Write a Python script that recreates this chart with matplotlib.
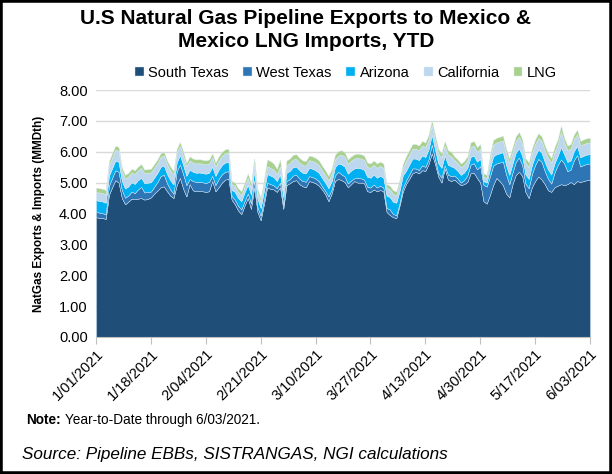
import matplotlib
matplotlib.use("Agg")
import matplotlib.pyplot as plt
import numpy as np
import pandas as pd
from matplotlib.patches import Rectangle

plt.rcParams['font.family'] = ['Liberation Sans', 'DejaVu Sans']

dates = pd.date_range('2021-01-01', '2021-06-03', freq='D')
tick_labels = ['1/01/2021', '1/18/2021', '2/04/2021', '2/21/2021', '3/10/2021',
               '3/27/2021', '4/13/2021', '4/30/2021', '5/17/2021', '6/03/2021']
series_names = ['South Texas', 'West Texas', 'Arizona', 'California', 'LNG']

south_texas = [
    3.88, 3.86, 3.86, 3.82, 4.60, 4.85, 5.08, 5.00, 4.50, 4.30,
    4.38, 4.48, 4.46, 4.48, 4.50, 4.45, 4.47, 4.52, 4.64, 4.74,
    4.85, 4.88, 4.72, 4.58, 4.50, 4.92, 5.15, 4.80, 4.55, 4.95,
    4.75, 4.72, 4.73, 4.72, 4.70, 4.72, 5.05, 4.72, 4.85, 5.00,
    5.10, 5.12, 4.45, 4.30, 4.10, 3.98, 4.25, 4.50, 4.15, 4.85,
    4.05, 3.78, 4.30, 4.85, 4.80, 4.78, 4.70, 4.85, 4.15, 4.92,
    4.98, 5.05, 5.08, 4.95, 4.88, 4.85, 5.05, 5.02, 4.98, 4.90,
    4.78, 4.62, 4.40, 4.65, 5.05, 5.12, 5.08, 5.02, 4.85, 4.95,
    5.05, 5.00, 5.00, 4.98, 4.72, 4.70, 4.78, 4.72, 4.76, 4.72,
    4.05, 3.95, 3.88, 3.85, 4.25, 4.70, 4.95, 5.12, 5.30, 5.35,
    5.30, 5.40, 5.38, 5.60, 5.95, 5.60, 5.20, 5.00, 5.45, 5.10,
    5.05, 5.10, 5.00, 4.92, 4.95, 5.02, 5.30, 5.32, 5.15, 5.00,
    4.40, 4.32, 4.60, 4.92, 5.15, 5.05, 4.92, 4.65, 4.52, 4.95,
    5.25, 5.35, 5.22, 4.70, 4.50, 4.85, 5.05, 5.20, 5.10, 4.95,
    4.75, 4.70, 4.85, 4.90, 4.95, 4.92, 4.95, 5.02, 4.95, 5.05,
    5.02, 5.05, 5.08, 5.08]

west_texas = [
    0.17, 0.17, 0.15, 0.15, 0.30, 0.30, 0.32, 0.35, 0.26, 0.21,
    0.20, 0.23, 0.20, 0.30, 0.36, 0.23, 0.23, 0.19, 0.22, 0.27,
    0.36, 0.38, 0.26, 0.20, 0.14, 0.44, 0.44, 0.47, 0.37, 0.17,
    0.30, 0.30, 0.30, 0.29, 0.29, 0.30, 0.17, 0.20, 0.27, 0.27,
    0.25, 0.25, 0.12, 0.15, 0.15, 0.15, 0.15, 0.15, 0.18, 0.22,
    0.15, 0.15, 0.15, 0.15, 0.15, 0.13, 0.12, 0.15, 0.13, 0.13,
    0.13, 0.18, 0.17, 0.18, 0.17, 0.18, 0.16, 0.16, 0.15, 0.15,
    0.10, 0.11, 0.15, 0.13, 0.18, 0.23, 0.19, 0.18, 0.12, 0.12,
    0.09, 0.16, 0.14, 0.12, 0.15, 0.14, 0.16, 0.12, 0.14, 0.12,
    0.13, 0.18, 0.10, 0.10, 0.08, 0.13, 0.11, 0.14, 0.16, 0.11,
    0.11, 0.16, 0.13, 0.16, 0.28, 0.16, 0.11, 0.16, 0.11, 0.16,
    0.16, 0.13, 0.13, 0.08, 0.13, 0.21, 0.28, 0.31, 0.28, 0.53,
    0.53, 0.55, 0.60, 0.63, 0.47, 0.60, 0.77, 0.62, 0.43, 0.37,
    0.42, 0.46, 0.35, 0.27, 0.32, 0.42, 0.52, 0.57, 0.57, 0.42,
    0.37, 0.27, 0.47, 0.67, 0.80, 0.70, 0.42, 0.40, 0.77, 0.84,
    0.50, 0.52, 0.53, 0.54]

arizona = [
    0.38, 0.38, 0.38, 0.38, 0.32, 0.32, 0.32, 0.32, 0.30, 0.30,
    0.30, 0.30, 0.30, 0.30, 0.30, 0.30, 0.30, 0.30, 0.30, 0.30,
    0.30, 0.30, 0.30, 0.30, 0.30, 0.30, 0.30, 0.30, 0.30, 0.30,
    0.30, 0.30, 0.30, 0.30, 0.30, 0.30, 0.30, 0.30, 0.30, 0.30,
    0.30, 0.30, 0.20, 0.25, 0.25, 0.27, 0.28, 0.28, 0.28, 0.30,
    0.28, 0.25, 0.28, 0.28, 0.28, 0.27, 0.23, 0.28, 0.25, 0.27,
    0.27, 0.27, 0.27, 0.27, 0.27, 0.27, 0.27, 0.27, 0.27, 0.27,
    0.27, 0.27, 0.27, 0.27, 0.27, 0.27, 0.32, 0.32, 0.32, 0.32,
    0.32, 0.32, 0.32, 0.32, 0.32, 0.32, 0.32, 0.32, 0.32, 0.32,
    0.40, 0.40, 0.40, 0.40, 0.40, 0.40, 0.32, 0.32, 0.32, 0.32,
    0.32, 0.32, 0.32, 0.32, 0.32, 0.32, 0.32, 0.32, 0.32, 0.32,
    0.32, 0.25, 0.25, 0.25, 0.25, 0.25, 0.25, 0.25, 0.25, 0.25,
    0.12, 0.13, 0.25, 0.30, 0.30, 0.30, 0.30, 0.30, 0.30, 0.30,
    0.30, 0.30, 0.30, 0.30, 0.30, 0.30, 0.30, 0.30, 0.30, 0.30,
    0.30, 0.30, 0.30, 0.30, 0.40, 0.30, 0.30, 0.30, 0.30, 0.30,
    0.30, 0.30, 0.30, 0.30]

california = [
    0.27, 0.27, 0.27, 0.27, 0.35, 0.35, 0.35, 0.35, 0.32, 0.32,
    0.32, 0.32, 0.32, 0.32, 0.32, 0.32, 0.32, 0.32, 0.32, 0.32,
    0.32, 0.32, 0.32, 0.32, 0.32, 0.32, 0.30, 0.30, 0.30, 0.30,
    0.30, 0.30, 0.30, 0.30, 0.30, 0.30, 0.30, 0.30, 0.30, 0.30,
    0.30, 0.30, 0.18, 0.20, 0.20, 0.20, 0.20, 0.22, 0.22, 0.25,
    0.20, 0.20, 0.22, 0.25, 0.25, 0.24, 0.22, 0.25, 0.22, 0.25,
    0.25, 0.25, 0.25, 0.25, 0.25, 0.25, 0.25, 0.25, 0.25, 0.25,
    0.25, 0.25, 0.25, 0.25, 0.25, 0.25, 0.32, 0.32, 0.32, 0.32,
    0.32, 0.32, 0.32, 0.32, 0.32, 0.32, 0.32, 0.32, 0.32, 0.32,
    0.25, 0.25, 0.25, 0.25, 0.25, 0.25, 0.32, 0.32, 0.32, 0.32,
    0.32, 0.32, 0.32, 0.32, 0.32, 0.32, 0.32, 0.32, 0.32, 0.32,
    0.32, 0.25, 0.25, 0.25, 0.25, 0.25, 0.32, 0.32, 0.32, 0.32,
    0.15, 0.15, 0.30, 0.38, 0.38, 0.38, 0.38, 0.38, 0.38, 0.38,
    0.38, 0.38, 0.38, 0.38, 0.38, 0.38, 0.38, 0.38, 0.38, 0.38,
    0.38, 0.38, 0.38, 0.38, 0.50, 0.38, 0.38, 0.38, 0.38, 0.38,
    0.38, 0.38, 0.38, 0.38]

lng = [
    0.14, 0.14, 0.14, 0.14, 0.13, 0.13, 0.13, 0.13, 0.12, 0.12,
    0.12, 0.12, 0.12, 0.12, 0.12, 0.12, 0.12, 0.12, 0.12, 0.12,
    0.12, 0.12, 0.12, 0.12, 0.12, 0.12, 0.13, 0.13, 0.13, 0.13,
    0.13, 0.13, 0.13, 0.13, 0.13, 0.13, 0.13, 0.13, 0.13, 0.13,
    0.13, 0.13, 0.10, 0.10, 0.12, 0.12, 0.12, 0.15, 0.15, 0.18,
    0.12, 0.12, 0.15, 0.22, 0.22, 0.20, 0.18, 0.22, 0.15, 0.15,
    0.15, 0.15, 0.15, 0.15, 0.15, 0.15, 0.15, 0.15, 0.15, 0.15,
    0.15, 0.15, 0.15, 0.15, 0.15, 0.15, 0.14, 0.14, 0.14, 0.14,
    0.14, 0.14, 0.14, 0.14, 0.14, 0.14, 0.14, 0.14, 0.14, 0.14,
    0.12, 0.12, 0.12, 0.12, 0.12, 0.12, 0.15, 0.15, 0.15, 0.15,
    0.15, 0.15, 0.15, 0.15, 0.15, 0.15, 0.15, 0.15, 0.15, 0.15,
    0.15, 0.12, 0.12, 0.12, 0.12, 0.12, 0.15, 0.15, 0.15, 0.15,
    0.10, 0.10, 0.15, 0.15, 0.15, 0.15, 0.15, 0.15, 0.15, 0.15,
    0.15, 0.15, 0.15, 0.15, 0.15, 0.15, 0.15, 0.15, 0.15, 0.15,
    0.15, 0.15, 0.15, 0.15, 0.20, 0.15, 0.15, 0.15, 0.15, 0.15,
    0.15, 0.15, 0.15, 0.15]

colors = ['#1F4E79', '#2E75B6', '#00B0F0', '#BDD7EE', '#A9D18E']

W, H = 612, 474
fig = plt.figure(figsize=(W / 100, H / 100), dpi=100)
ax = fig.add_axes([96 / W, 1 - 337 / H, (590 - 96) / W, (337 - 90) / H])

ax.stackplot(dates, south_texas, west_texas, arizona, california, lng,
             colors=colors, labels=series_names,
             edgecolor='#DDEBF7', linewidth=0.3)

ax.set_ylim(0, 8)
ax.set_yticks(np.arange(0, 9, 1))
ax.set_yticklabels([f'{v:.2f}' for v in np.arange(0, 9, 1)], fontsize=10.5)
ax.grid(axis='y', color='#D9D9D9', linewidth=1)
ax.set_axisbelow(True)
ax.set_xlim(dates[0], dates[-1])
tick_dates = pd.to_datetime(['2021-01-01', '2021-01-18', '2021-02-04', '2021-02-21',
                             '2021-03-10', '2021-03-27', '2021-04-13', '2021-04-30',
                             '2021-05-17', '2021-06-03'])
ax.set_xticks(tick_dates)
ax.set_xticklabels(tick_labels, rotation=45, ha='right', rotation_mode='anchor', fontsize=10.5)
ax.tick_params(axis='x', length=5, color='#BFBFBF', pad=2)
ax.tick_params(axis='y', length=0, pad=6)
for s in ['top', 'right', 'left']:
    ax.spines[s].set_visible(False)
ax.spines['bottom'].set_color('#BFBFBF')

ax.set_ylabel('NatGas Exports & Imports (MMDth)', fontsize=8.5, fontweight='bold', labelpad=10)

fig.text(306 / W, 1 - 30 / H, 'U.S Natural Gas Pipeline Exports to Mexico &\nMexico LNG Imports, YTD',
         ha='center', va='center', fontsize=15, fontweight='bold', linespacing=1.25)

handles, labels = ax.get_legend_handles_labels()
fig.legend(handles, labels, loc='center', bbox_to_anchor=(346 / W, 1 - 73 / H), ncol=5,
           frameon=False, fontsize=10.5, handlelength=0.6, handleheight=0.6,
           handletextpad=0.3, columnspacing=1.0)

fig.text(26 / W, 1 - 420 / H, 'Note:', fontsize=9.8, fontweight='bold',
         ha='left', va='center')
fig.text(65 / W, 1 - 420 / H, 'Year-to-Date through 6/03/2021.', fontsize=9.8,
         ha='left', va='center')
fig.text(22 / W, 1 - 454 / H, 'Source: Pipeline EBBs, SISTRANGAS, NGI calculations',
         fontsize=12.3, style='italic', ha='left', va='center')

fig.add_artist(Rectangle((0, 0), 1, 1, transform=fig.transFigure, fill=False,
                         edgecolor='black', linewidth=4))

fig.savefig('out.png', dpi=100)
